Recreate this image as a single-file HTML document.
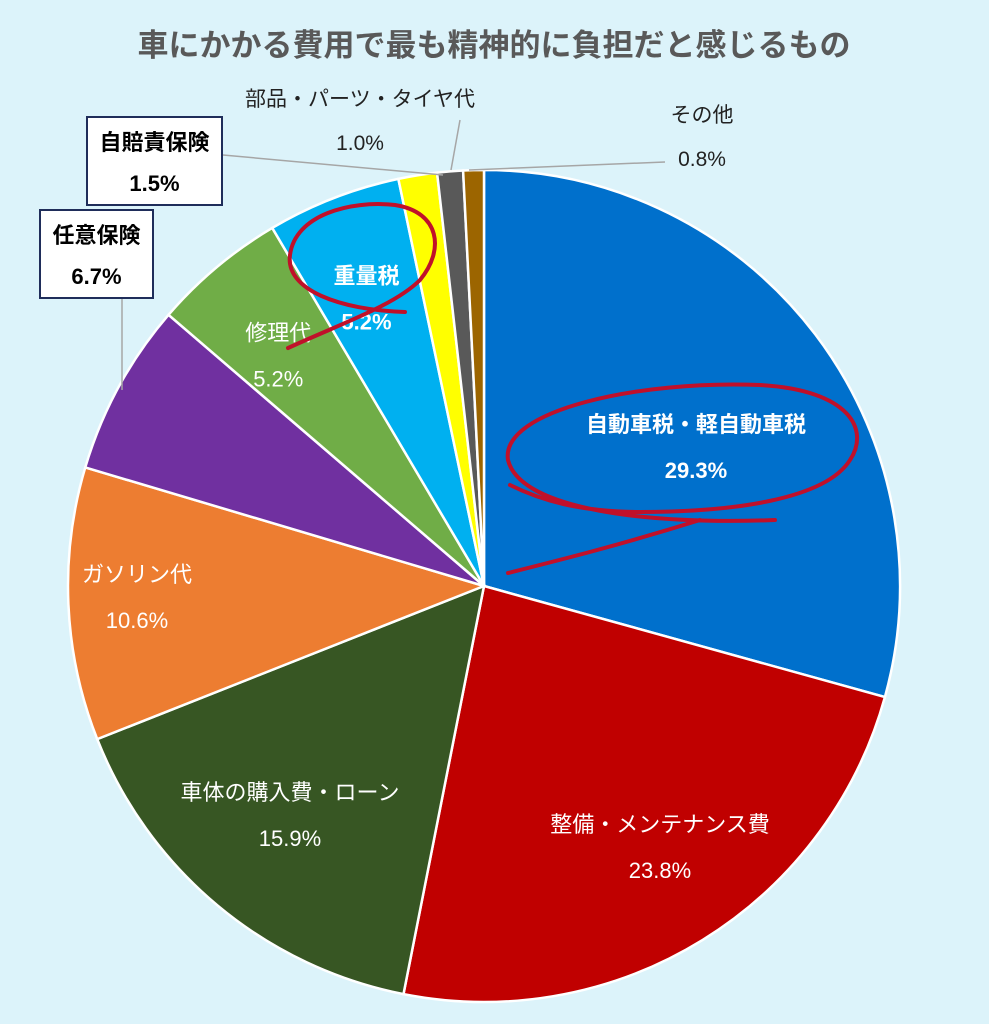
<!DOCTYPE html>
<html><head><meta charset="utf-8">
<style>
html,body{margin:0;padding:0;background:#dcf3fa;}
svg{display:block;font-family:"Liberation Sans","Noto Sans CJK JP",sans-serif;}
</style></head>
<body>
<svg id="chart" width="989" height="1024" viewBox="0 0 989 1024">
<rect x="0" y="0" width="989" height="1024" fill="#dcf3fa"/>
<text x="494" y="56" text-anchor="middle" font-size="31" font-weight="bold" fill="#595959">車にかかる費用で最も精神的に負担だと感じるもの</text>
<g id="slices"></g>
<g id="leaders" stroke="#a6a6a6" stroke-width="1.5" fill="none">
<polyline points="443,175 223,155"/>
<polyline points="451,170 460,120"/>
<polyline points="469,170 665,162"/>
<polyline points="122,390 122,298"/>
</g>
<g id="labels"></g>
<g fill="none" stroke="#c0102a" stroke-width="4" stroke-linecap="round">
<path d="M775,520 C650,525 520,510 508,460 C500,410 640,380 760,385 C850,390 870,430 850,460 C825,500 730,512 640,512 C580,512 540,500 510,485 M700,520 C620,545 560,560 508,573"/>
<path d="M405,312 C340,310 285,290 290,255 C295,215 350,200 395,205 C440,212 445,250 420,280 C395,305 345,322 288,348"/>
</g>
<script>
const categories=["自動車税・軽自動車税","整備・メンテナンス費","車体の購入費・ローン","ガソリン代","任意保険","修理代","重量税","自賠責保険","部品・パーツ・タイヤ代","その他"];
const values=[29.3,23.8,15.9,10.6,6.7,5.2,5.2,1.5,1.0,0.8];
const valueLabels=["29.3%","23.8%","15.9%","10.6%","6.7%","5.2%","5.2%","1.5%","1.0%","0.8%"];
const colors=["#0070cc","#c00000","#375623","#ed7d31","#7030a0","#70ad47","#00b0f0","#ffff00","#595959","#9c6500"];
const cx=484,cy=586,r=416;
const NS="http://www.w3.org/2000/svg";
const total=values.reduce((a,b)=>a+b,0);
function pt(frac,rad){const a=frac*2*Math.PI-Math.PI/2;return [cx+rad*Math.cos(a),cy+rad*Math.sin(a)];}
const sg=document.getElementById('slices');
let acc=0;
const mids=[];
values.forEach((v,i)=>{
 const f0=acc/total,f1=(acc+v)/total;acc+=v;
 const p0=pt(f0,r),p1=pt(f1,r);
 const large=(f1-f0)>0.5?1:0;
 const p=document.createElementNS(NS,'path');
 p.setAttribute('d',`M${cx},${cy} L${p0[0]},${p0[1]} A${r},${r} 0 ${large} 1 ${p1[0]},${p1[1]} Z`);
 p.setAttribute('fill',colors[i]);p.setAttribute('stroke','#fff');p.setAttribute('stroke-width','2.5');
 
 
 sg.appendChild(p);
 mids.push((f0+f1)/2);
});
const lg=document.getElementById('labels');
function txt(x,y,s,opt){
 const t=document.createElementNS(NS,'text');
 t.setAttribute('x',x);t.setAttribute('y',y);t.setAttribute('text-anchor','middle');
 t.setAttribute('font-size',opt.size||22);t.setAttribute('fill',opt.fill||'#fff');
 if(opt.bold)t.setAttribute('font-weight','bold');
 t.textContent=s;
 
 
 lg.appendChild(t);
}
// inside labels: [index, radius factor, color, bold]
const inside=[[0,0.6,'#fff',true],[1,0.62,'#fff',false],[2,0.6,'#fff',false],[3,0.82,'#fff',false],[5,0.77,'#fff',false],[6,0.78,'#fff',true]];
inside.forEach(([i,k,c,b])=>{
 let [x,y]=pt(mids[i],r*k);
 if(i===0){x=696;y=432;}
 if(i===1){x=660;y=832;}
 if(i===2){x=290;y=800;}
 if(i===3){x=137;y=582;}
 txt(x,y,categories[i],{fill:c,bold:b,size:22,name:'label-name-'+i});
 txt(x,y+46,valueLabels[i],{fill:c,bold:b,size:22,name:'label-value-'+i});
});
// outside labels
function box(x,y,w,h,i){
 const rc=document.createElementNS(NS,'rect');
 rc.setAttribute('x',x);rc.setAttribute('y',y);rc.setAttribute('width',w);rc.setAttribute('height',h);
 rc.setAttribute('fill','#fff');rc.setAttribute('stroke','#1f2d5a');rc.setAttribute('stroke-width','2');
 
 
 lg.appendChild(rc);
 txt(x+w/2,y+33,categories[i],{fill:'#000',bold:true,size:22,name:'label-name-'+i});
 txt(x+w/2,y+74,valueLabels[i],{fill:'#000',bold:true,size:22,name:'label-value-'+i});
}
box(40,210,113,88,4);
box(87,117,135,88,7);
txt(360,106,categories[8],{fill:'#222',size:21,name:'label-name-8'});
txt(360,150,valueLabels[8],{fill:'#222',size:21,name:'label-value-8'});
txt(702,122,categories[9],{fill:'#222',size:21,name:'label-name-9'});
txt(702,166,valueLabels[9],{fill:'#222',size:21,name:'label-value-9'});
</script>
</svg>
</body></html>
